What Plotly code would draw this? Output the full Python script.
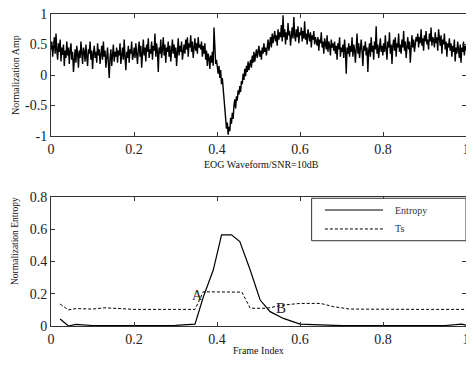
import numpy as np
import plotly.graph_objects as go
from plotly.subplots import make_subplots

# ---- top panel: EOG waveform ----
eog_amp = [
    0.42, 0.55, 0.30, 0.48, 0.62, 0.35, 0.68, 0.40, 0.25, 0.52, 0.38, 0.58, 0.22, 0.45, 0.33, 0.50, 0.15, 0.40, 0.28, 0.55,
    0.32, 0.45, 0.18, 0.40, 0.52, 0.25, 0.38, 0.05, 0.30, 0.42, 0.20, 0.48, 0.35, 0.12, 0.40, 0.28, 0.55, 0.30, 0.18, 0.45,
    0.38, 0.22, 0.50, 0.30, 0.15, 0.42, 0.35, 0.55, 0.25, 0.40, 0.10, 0.35, 0.48, 0.28, 0.38, 0.20, 0.52, 0.32, 0.42, 0.18,
    0.35, 0.48, 0.25, 0.55, 0.30, 0.40, 0.12, 0.38, 0.45, 0.20, -0.05, 0.28, 0.42, 0.15, 0.35, 0.50, 0.22, 0.38, 0.30, 0.45,
    0.20, 0.40, 0.32, 0.52, 0.18, 0.35, 0.45, 0.25, 0.58, 0.30, 0.08, 0.38, 0.28, 0.48, 0.20, 0.42, 0.35, 0.55, 0.25, 0.32,
    0.45, 0.28, 0.52, 0.35, 0.18, 0.42, 0.55, 0.30, 0.48, 0.12, 0.40, 0.58, 0.32, 0.45, 0.22, 0.50, 0.38, 0.60, 0.28, 0.42,
    0.35, 0.55, 0.25, 0.48, 0.40, 0.68, 0.30, 0.52, 0.38, 0.05, 0.45, 0.35, 0.58, 0.28, 0.42, 0.62, 0.32, 0.50, 0.20, 0.45,
    0.38, 0.55, 0.30, 0.48, 0.22, 0.42, 0.58, 0.35, 0.50, 0.28, 0.45, 0.15, 0.40, 0.60, 0.32, 0.48, 0.38, 0.55, 0.25, 0.45,
    0.50, 0.35, 0.58, 0.42, 0.62, 0.30, 0.52, 0.45, 0.65, 0.38, 0.55, 0.28, 0.48, 0.60, 0.40, 0.52, 0.35, 0.62, 0.45, 0.50,
    0.42, 0.55, 0.30, 0.48, 0.35, 0.52, 0.25, 0.40, 0.15, 0.35, 0.28, 0.10, 0.32, 0.20, 0.38, 0.15, 0.78, 0.30, 0.18, 0.25,
    0.12, 0.02, 0.15, -0.05, 0.08, -0.15, -0.05, -0.25, -0.35, -0.50, -0.70, -0.88, -0.78, -0.98, -0.85, -0.92, -0.70, -0.80, -0.62, -0.72,
    -0.50, -0.40, -0.55, -0.35, -0.42, -0.25, -0.32, -0.18, -0.28, -0.10, -0.15, 0.02, -0.08, 0.10, -0.02, 0.15, 0.05, 0.22, 0.08, 0.18,
    0.25, 0.12, 0.32, 0.20, 0.38, 0.22, 0.30, 0.42, 0.28, 0.35, 0.48, 0.30, 0.40, 0.25, 0.45, 0.35, 0.52, 0.38, 0.45, 0.32,
    0.48, 0.58, 0.40, 0.55, 0.62, 0.45, 0.68, 0.52, 0.60, 0.72, 0.55, 0.65, 0.48, 0.75, 0.58, 0.70, 0.62, 0.82, 0.55, 0.98,
    0.62, 0.75, 0.50, 0.70, 0.58, 0.85, 0.65, 0.72, 0.48, 0.68, 0.78, 0.60, 0.95, 0.65, 0.55, 0.75, 0.62, 0.80, 0.52, 0.70,
    0.65, 0.78, 0.55, 0.72, 0.60, 0.88, 0.58, 0.68, 0.50, 0.75, 0.62, 0.55, 0.70, 0.45, 0.65, 0.58, 0.72, 0.50, 0.62, 0.55,
    0.48, 0.62, 0.40, 0.58, 0.52, 0.70, 0.45, 0.55, 0.35, 0.60, 0.50, 0.42, 0.65, 0.38, 0.55, 0.48, 0.32, 0.58, 0.45, 0.52,
    0.40, 0.55, 0.35, 0.48, 0.25, 0.52, 0.42, 0.62, 0.30, 0.45, 0.38, 0.50, 0.28, 0.58, 0.40, 0.02, 0.45, 0.35, 0.52, 0.30,
    0.48, 0.38, 0.62, 0.30, 0.50, 0.42, 0.20, 0.45, 0.68, 0.35, 0.52, 0.28, 0.45, 0.58, 0.38, 0.15, 0.48, 0.40, 0.55, 0.32,
    0.45, 0.05, 0.40, 0.52, 0.30, 0.62, 0.38, 0.48, 0.25, 0.55, 0.42, 0.80, 0.35, 0.50, 0.28, 0.45, 0.60, 0.38, 0.48, 0.32,
    0.52, 0.38, 0.65, 0.42, 0.25, 0.55, 0.45, 0.70, 0.35, 0.50, 0.18, 0.48, 0.58, 0.40, 0.62, 0.30, 0.52, 0.45, 0.68, 0.38,
    0.50, 0.35, 0.58, 0.45, 0.72, 0.40, 0.55, 0.28, 0.48, 0.62, 0.42, 0.55, 0.20, 0.50, 0.65, 0.45, 0.58, 0.38, 0.52, 0.62,
    0.55, 0.68, 0.45, 0.62, 0.52, 0.75, 0.48, 0.60, 0.40, 0.65, 0.55, 0.72, 0.50, 0.58, 0.42, 0.68, 0.55, 0.78, 0.48, 0.62,
    0.58, 0.45, 0.70, 0.52, 0.62, 0.40, 0.75, 0.55, 0.48, 0.65, 0.35, 0.58, 0.50, 0.68, 0.42, 0.55, 0.30, 0.52, 0.45, 0.60,
    0.40, 0.52, 0.30, 0.48, 0.38, 0.58, 0.22, 0.45, 0.35, 0.55, 0.42, 0.28, 0.50, 0.20, 0.45, 0.38, 0.55, 0.32, 0.48, 0.40,
]
eog_t = np.arange(len(eog_amp)) / (len(eog_amp) - 1)

# ---- bottom panel: entropy and threshold Ts ----
frame_x = [0.022, 0.042, 0.06, 0.08, 0.1, 0.15, 0.2, 0.25, 0.3, 0.347, 0.367, 0.391, 0.411, 0.435,
           0.455, 0.48, 0.504, 0.528, 0.56, 0.6, 0.7, 0.8, 0.9, 0.95, 0.975, 0.99, 1.0]
entropy = [0.043, 0.0, 0.01, 0.005, 0.003, 0.002, 0.002, 0.002, 0.004, 0.012, 0.18, 0.347, 0.565, 0.565,
           0.523, 0.347, 0.161, 0.089, 0.047, 0.012, 0.002, 0.002, 0.002, 0.003, 0.008, 0.012, 0.005]
ts_x = [0.022, 0.042, 0.06, 0.1, 0.13, 0.16, 0.2, 0.3, 0.347, 0.367, 0.40, 0.46, 0.48, 0.52,
        0.56, 0.60, 0.65, 0.68, 0.72, 0.8, 0.9, 1.0]
ts = [0.136, 0.10, 0.108, 0.105, 0.113, 0.108, 0.103, 0.103, 0.103, 0.212, 0.21, 0.21, 0.11, 0.11,
      0.13, 0.14, 0.14, 0.12, 0.105, 0.103, 0.103, 0.103]

x_ticks = [0, 0.2, 0.4, 0.6, 0.8, 1]
x_tick_text = ["0", "0.2", "0.4", "0.6", "0.8", "1"]
top_y_ticks = [-1, -0.5, 0, 0.5, 1]
top_y_text = ["-1", "-0.5", "0", "0.5", "1"]
bot_y_ticks = [0, 0.2, 0.4, 0.6, 0.8]
bot_y_text = ["0", "0.2", "0.4", "0.6", "0.8"]

FONT = "Liberation Serif, Times New Roman, serif"

fig = make_subplots(rows=2, cols=1)
fig.add_trace(go.Scatter(x=eog_t, y=eog_amp, mode="lines",
                         line=dict(color="black", width=1.4), showlegend=False), row=1, col=1)
fig.add_trace(go.Scatter(x=frame_x, y=entropy, mode="lines", name="Entropy",
                         line=dict(color="black", width=1.2), showlegend=False), row=2, col=1)
fig.add_trace(go.Scatter(x=ts_x, y=ts, mode="lines", name="Ts",
                         line=dict(color="black", width=1, dash="3px,2px"), showlegend=False), row=2, col=1)

axis_common = dict(showline=True, linecolor="#333", linewidth=1, mirror="ticks",
                   ticks="inside", ticklen=4, tickcolor="#333", showgrid=False, zeroline=False,
                   automargin=False, ticklabeloverflow="allow",
                   tickfont=dict(family=FONT, size=14, color="#222"))

fig.update_xaxes(range=[0, 1], tickvals=x_ticks, ticktext=x_tick_text, **axis_common)
fig.update_yaxes(**axis_common)
fig.update_xaxes(domain=[0, 1], row=1, col=1)
fig.update_xaxes(domain=[0, 1], row=2, col=1)
fig.update_yaxes(domain=[0.609, 1.0], range=[-1, 1], tickvals=top_y_ticks, ticktext=top_y_text, row=1, col=1)
fig.update_yaxes(domain=[0, 0.4135], range=[0, 0.8], tickvals=bot_y_ticks, ticktext=bot_y_text, row=2, col=1)

title_font = dict(family=FONT, size=10, color="#111")
ytitle_x = (15 - 51) / 415
ann = [
    dict(text="Normalization Amp", x=ytitle_x, y=(326 - 75) / 312, xref="paper", yref="paper",
         xanchor="center", yanchor="middle", textangle=-90, showarrow=False, font=title_font),
    dict(text="Normalization Entropy", x=ytitle_x, y=(326 - 241) / 312, xref="paper", yref="paper",
         xanchor="center", yanchor="middle", textangle=-90, showarrow=False,
         font=dict(family=FONT, size=9.5, color="#111")),
    dict(text="EOG Waveform/SNR=10dB", x=0.508, y=(326 - 164) / 312, xref="paper", yref="paper",
         xanchor="center", yanchor="middle", showarrow=False, font=title_font),
    dict(text="Frame Index", x=0.501, y=(326 - 350) / 312, xref="paper", yref="paper",
         xanchor="center", yanchor="middle", showarrow=False, font=title_font),
    dict(text="A", x=0.353, y=0.192, xref="x2", yref="y2", showarrow=False,
         font=dict(family=FONT, size=14, color="#222")),
    dict(text="B", x=0.554, y=0.112, xref="x2", yref="y2", showarrow=False,
         font=dict(family=FONT, size=15, color="#222")),
    dict(text="Entropy", x=0.825, y=0.899, xref="x2 domain", yref="y2 domain", xanchor="left",
         yanchor="middle", showarrow=False, font=dict(family=FONT, size=10, color="#333")),
    dict(text="Ts", x=0.825, y=0.752, xref="x2 domain", yref="y2 domain", xanchor="left",
         yanchor="middle", showarrow=False, font=dict(family=FONT, size=10, color="#333")),
]

shapes = [
    dict(type="rect", x0=0.628, x1=1.0, y0=0.661, y1=0.99, xref="x2 domain", yref="y2 domain",
         line=dict(color="#333", width=1), fillcolor="white", layer="above"),
    dict(type="line", x0=0.66, x1=0.80, y0=0.899, y1=0.899, xref="x2 domain", yref="y2 domain",
         line=dict(color="black", width=1)),
    dict(type="line", x0=0.66, x1=0.80, y0=0.752, y1=0.752, xref="x2 domain", yref="y2 domain",
         line=dict(color="black", width=1, dash="3px,2px")),
]

# the page body adds an 8px margin, so the figure is 8px smaller and its margins compensate
fig.update_layout(width=466, height=374, margin=dict(l=43, r=8, t=6, b=56),
                  paper_bgcolor="white", plot_bgcolor="white",
                  annotations=ann, shapes=shapes, showlegend=False)

fig.write_html("out.html")
